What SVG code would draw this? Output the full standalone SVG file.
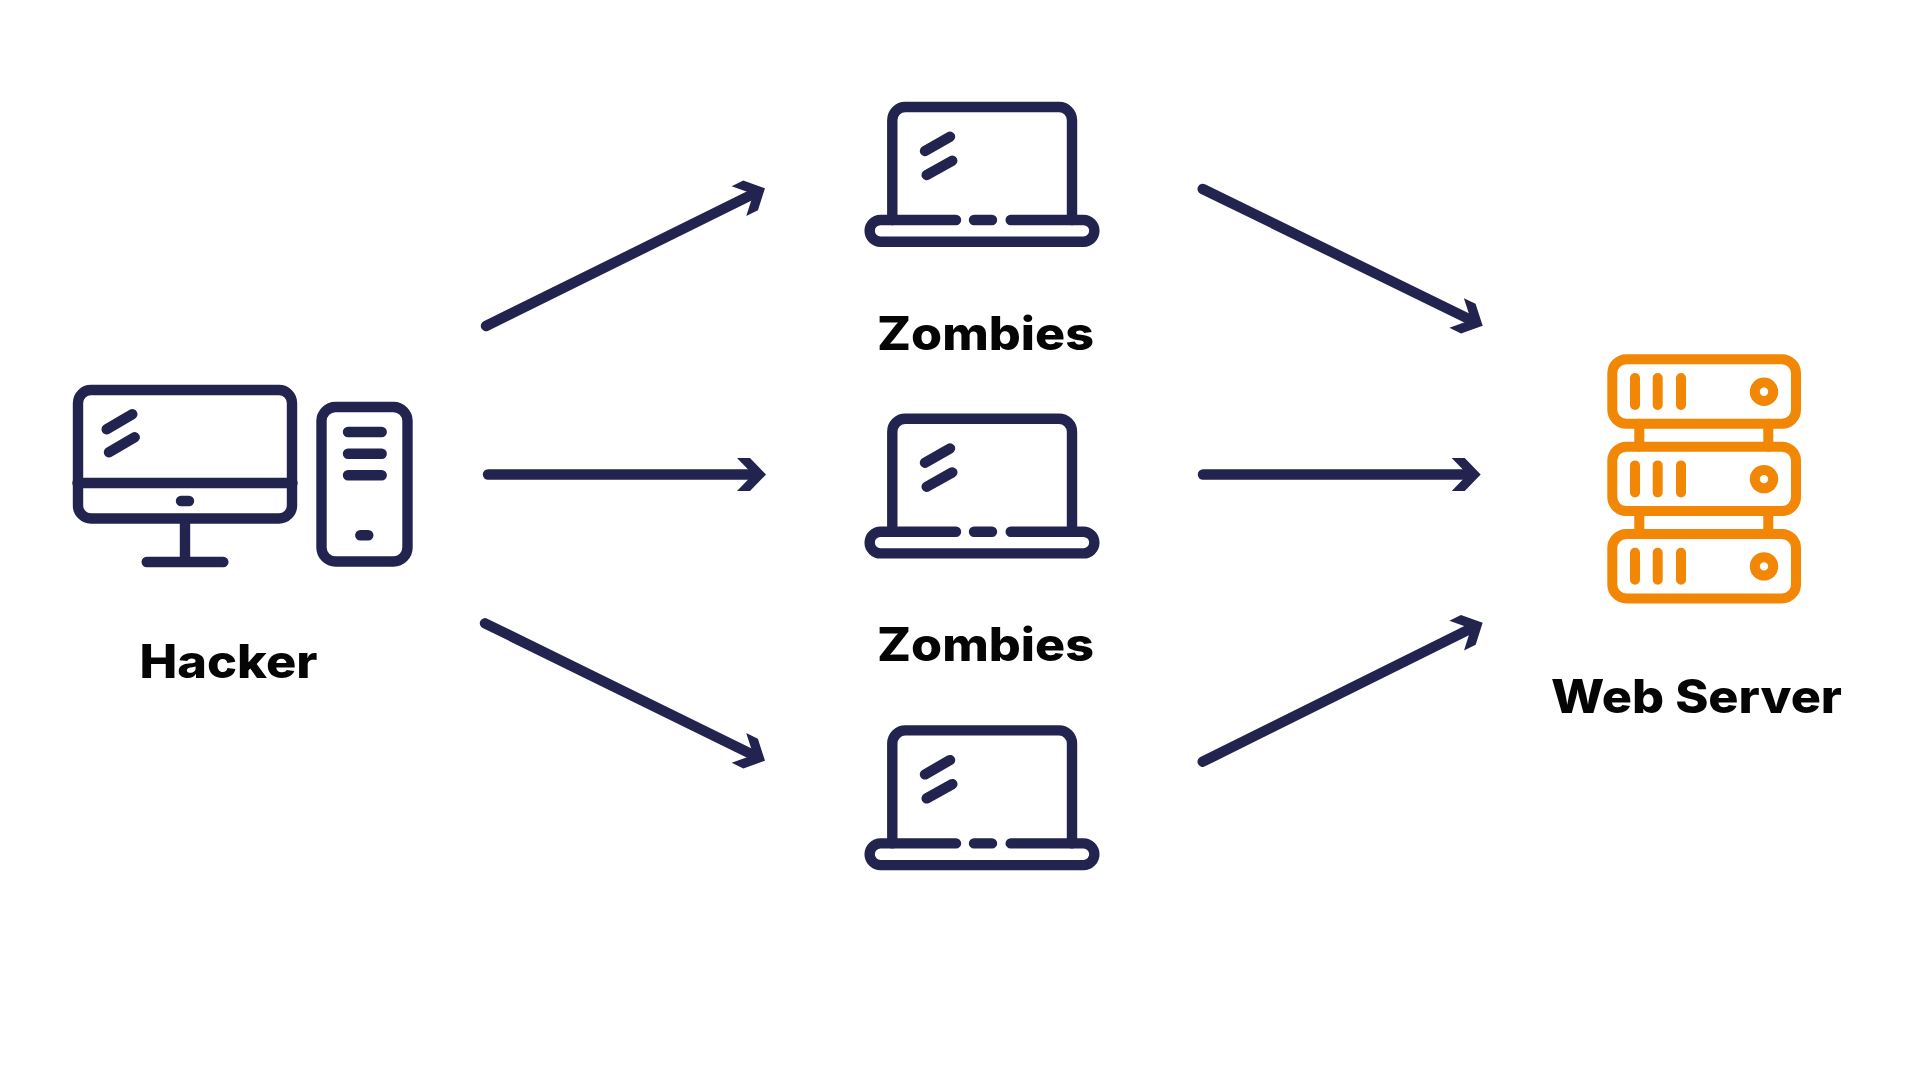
<svg xmlns="http://www.w3.org/2000/svg" width="1920" height="1080" viewBox="0 0 1920 1080">
<style>
.n{fill:none;stroke:#22244f;stroke-width:10.4;stroke-linecap:round;stroke-linejoin:round}
.o{fill:none;stroke:#f28705;stroke-width:10;stroke-linecap:round;stroke-linejoin:round}
.c{fill:none;stroke:#22244f;stroke-width:10.4;stroke-linecap:round}
.t{font-family:"Inter","Liberation Sans",sans-serif;font-weight:800;font-size:46px;fill:#050505}
</style>
<defs>
<marker id="ah" markerUnits="userSpaceOnUse" viewBox="-22 -20 36 40" markerWidth="36" markerHeight="40" refX="0" refY="0" orient="auto"><path d="M10 0L-6 -16.5L-19 -16.5L-3 0L-19 16.5L-6 16.5Z" fill="#22244f"/></marker>
<g id="laptop-icon"><path class="n" d="M892.3 220V120a13 13 0 0 1 13 -13H1059a13 13 0 0 1 13 13V220"/><path class="n" d="M956 220H880.5a10.85 10.85 0 0 0 0 21.7H1083.5a10.85 10.85 0 0 0 0 -21.7H1010.7"/><path class="n" d="M974 220H992M925 151L950 136.7M926.7 175L952.3 160.7"/></g>
<g id="rack"><rect class="o" x="1612.3" y="359.3" width="183.7" height="64.4" rx="14"/><path class="o" d="M1635 378V405M1657.7 378V405M1681 378V405"/><circle class="o" cx="1764" cy="391.7" r="9.2"/></g>
</defs>
<rect width="1920" height="1080" fill="#fff"/>
<g id="connectors">
<path class="c" marker-end="url(#ah)" d="M486 326L756 192.7"/>
<path class="c" marker-end="url(#ah)" d="M488 474.5L756 474.5"/>
<path class="c" marker-end="url(#ah)" d="M485 623.3L756 756.3"/>
<path class="c" marker-end="url(#ah)" d="M1202.7 189L1473.7 321.3"/>
<path class="c" marker-end="url(#ah)" d="M1203 474.5L1470.7 474.5"/>
<path class="c" marker-end="url(#ah)" d="M1202.7 761.7L1473.7 627.2"/>
</g>
<g id="hacker">
<rect class="n" x="78" y="390" width="214" height="128.5" rx="13"/>
<path class="n" d="M77.5 483H292.5M181 501H189M185 520V562M146.7 562H223.3M106.7 429.3L132.3 414.3M109 452.3L134.7 437.3"/>
<rect class="n" x="321.5" y="407" width="86" height="154.5" rx="14"/>
<path class="n" d="M348 432H381.7M348 453.7H381.7M348 475.3H381.7M360.3 535.3H368.3"/>
<text class="t" x="139.5" y="678" textLength="178" lengthAdjust="spacingAndGlyphs">Hacker</text>
</g>
<g id="zombie-1"><use href="#laptop-icon"/><text class="t" x="877" y="350" textLength="217" lengthAdjust="spacingAndGlyphs">Zombies</text></g>
<g id="zombie-2"><use href="#laptop-icon" y="311.7"/><text class="t" x="877" y="660.5" textLength="217" lengthAdjust="spacingAndGlyphs">Zombies</text></g>
<g id="zombie-3"><use href="#laptop-icon" y="623.4"/></g>
<g id="web-server">
<use href="#rack"/><use href="#rack" y="87.4"/><use href="#rack" y="174.7"/>
<path class="o" d="M1639.3 423.7V446.7M1768.3 423.7V446.7M1639.3 511V534M1768.3 511V534"/>
<text class="t" x="1551" y="713" textLength="291" lengthAdjust="spacingAndGlyphs">Web Server</text>
</g>
</svg>
